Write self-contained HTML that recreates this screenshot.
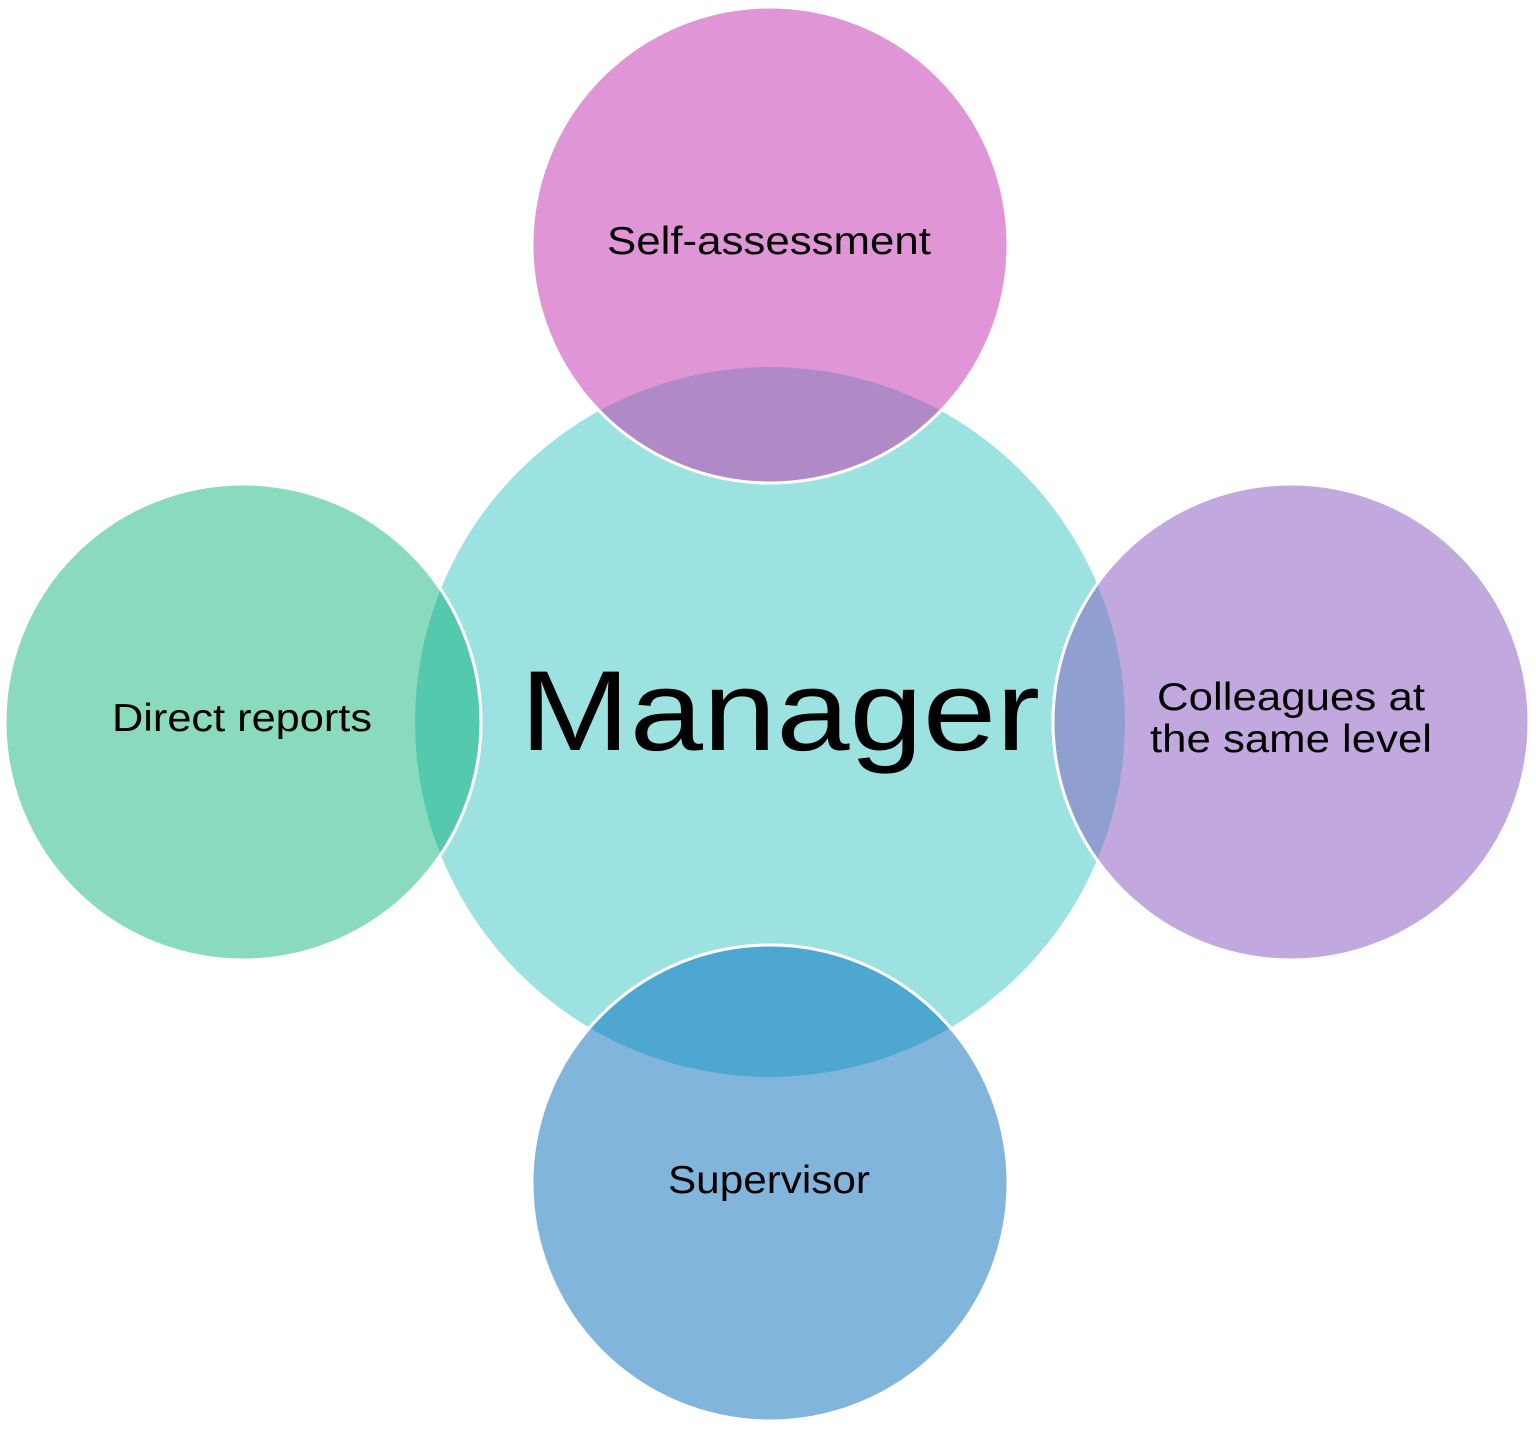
<!DOCTYPE html>
<html><head><style>html,body{margin:0;padding:0;background:#fff}</style></head><body>
<svg width="1536" height="1427" viewBox="0 0 1536 1427" xmlns="http://www.w3.org/2000/svg">
<defs>
<clipPath id="cc"><circle cx="770" cy="722" r="355"/></clipPath>
</defs>
<circle cx="770" cy="722" r="355" fill="#9BE2E0"/>
<g stroke="#fff" stroke-width="3">
<circle cx="770" cy="245" r="238" fill="#E096D6"/>
<circle cx="770" cy="1183" r="238" fill="#82B5DC"/>
<circle cx="243" cy="722" r="238" fill="#8ADABD"/>
<circle cx="1291" cy="722" r="238" fill="#C1A9DF"/>
</g>
<g clip-path="url(#cc)">
<circle cx="770" cy="245" r="238" fill="#B08AC6"/>
<circle cx="770" cy="1183" r="238" fill="#4EA7D0"/>
<circle cx="243" cy="722" r="238" fill="#54C9AE"/>
<circle cx="1291" cy="722" r="238" fill="#8F9FD0"/>
</g>
<g fill="none" stroke="#fff" stroke-width="3" clip-path="url(#cc)">
<circle cx="770" cy="245" r="238"/>
<circle cx="770" cy="1183" r="238"/>
<circle cx="243" cy="722" r="238"/>
<circle cx="1291" cy="722" r="238"/>
</g>
<g font-family="Liberation Sans, sans-serif" fill="#000" lengthAdjust="spacingAndGlyphs">
<text x="607" y="254" font-size="39" textLength="324" lengthAdjust="spacingAndGlyphs">Self-assessment</text>
<text x="112" y="731" font-size="39" textLength="260" lengthAdjust="spacingAndGlyphs">Direct reports</text>
<text x="1157" y="710" font-size="39" textLength="268" lengthAdjust="spacingAndGlyphs">Colleagues at</text>
<text x="1150" y="752" font-size="39" textLength="282" lengthAdjust="spacingAndGlyphs">the same level</text>
<text x="668" y="1193" font-size="39" textLength="202" lengthAdjust="spacingAndGlyphs">Supervisor</text>
<text x="520" y="750" font-size="114" textLength="520" lengthAdjust="spacingAndGlyphs">Manager</text>
</g>
</svg>
</body></html>
